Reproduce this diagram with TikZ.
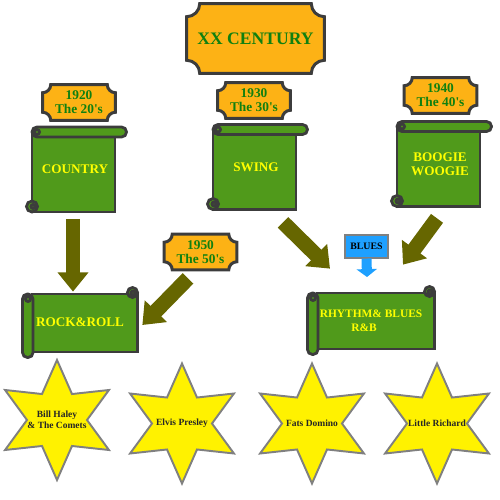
\documentclass[tikz,border=0pt]{standalone}
\usepackage{fontspec}
\setmainfont{Liberation Serif}
\usepackage{tikz}
\usetikzlibrary{arrows.meta}
\usetikzlibrary{shapes.geometric}

\definecolor{plaqueorange}{RGB}{253,178,21}
\definecolor{plaquegreen}{RGB}{16,128,16}
\definecolor{darkline}{RGB}{60,60,60}
\definecolor{scrollgreen}{RGB}{80,154,27}
\definecolor{scrolltext}{RGB}{255,255,0}
\definecolor{arrowolive}{RGB}{102,102,0}
\definecolor{bluesblue}{RGB}{30,160,255}
\definecolor{stargray}{RGB}{128,128,128}

\tikzset{
    pline/.style={draw=darkline, line width=1.7pt, fill=plaqueorange},
    sline/.style={draw=darkline, line width=1.6pt, fill=scrollgreen},
    plaque/.style={minimum width=15.2mm, minimum height=7.8mm, inner sep=0pt, align=center,
        text=plaquegreen, font=\bfseries\fontsize{7.6}{8}\selectfont,
        path picture={
            \filldraw[pline]
                ([shift={(1.7+#1,1.7)}]path picture bounding box.north west)
                -- ([shift={(-1.7-#1,1.7)}]path picture bounding box.north east)
                .. controls ([shift={(-1.7-#1,1.7+0.55*#1)}]path picture bounding box.north east)
                and ([shift={(-1.7-0.55*#1,1.7+#1)}]path picture bounding box.north east)
                .. ([shift={(-1.7,1.7+#1)}]path picture bounding box.north east)
                -- ([shift={(-1.7,-1.7-#1)}]path picture bounding box.south east)
                .. controls ([shift={(-1.7-0.55*#1,-1.7-#1)}]path picture bounding box.south east)
                and ([shift={(-1.7-#1,-1.7-0.55*#1)}]path picture bounding box.south east)
                .. ([shift={(-1.7-#1,-1.7)}]path picture bounding box.south east)
                -- ([shift={(1.7+#1,-1.7)}]path picture bounding box.south west)
                .. controls ([shift={(1.7+#1,-1.7-0.55*#1)}]path picture bounding box.south west)
                and ([shift={(1.7+0.55*#1,-1.7-#1)}]path picture bounding box.south west)
                .. ([shift={(1.7,-1.7-#1)}]path picture bounding box.south west)
                -- ([shift={(1.7,1.7+#1)}]path picture bounding box.north west)
                .. controls ([shift={(1.7+0.55*#1,1.7+#1)}]path picture bounding box.north west)
                and ([shift={(1.7+#1,1.7+0.55*#1)}]path picture bounding box.north west)
                .. ([shift={(1.7+#1,1.7)}]path picture bounding box.north west) -- cycle;
        }},
    plaque/.default=8,
    vscroll/.style={minimum width=21.2mm, minimum height=17.6mm, inner sep=0pt, align=center,
        text=scrolltext, font=\bfseries\fontsize{7.5}{8}\selectfont,
        path picture={
            % body
            \filldraw[sline] ([shift={(10,6)}]path picture bounding box.north west) rectangle ([shift={(-13,-1.5)}]path picture bounding box.south east);
            % roll on top
            \filldraw[sline, rounded corners=2.8pt] ([shift={(10,1.5)}]path picture bounding box.north west) rectangle ([shift={(-1.5,11.5)}]path picture bounding box.north east);
            \draw[sline, fill=none] ([shift={(15,6.5)}]path picture bounding box.north west) circle (2.5);
            % curl at the foot
            \filldraw[sline] ([shift={(10,-7)}]path picture bounding box.south west) circle (5.5);
            \draw[sline, fill=none] ([shift={(11,-7)}]path picture bounding box.south west) circle (2);
        }},
    hscroll/.style={inner sep=0pt, align=center,
        text=scrolltext, font=\bfseries\fontsize{7.5}{8}\selectfont,
        path picture={
            % body
            \filldraw[sline] ([shift={(11,8)}]path picture bounding box.north west) rectangle ([shift={(-1.5,-7)}]path picture bounding box.south east);
            % curl at the top right
            \filldraw[sline] ([shift={(-6.5,6.5)}]path picture bounding box.north east) circle (5);
            \draw[sline, fill=none] ([shift={(-6,7)}]path picture bounding box.north east) circle (2);
            % roll on the left
            \filldraw[sline, rounded corners=2.8pt] ([shift={(1.5,8)}]path picture bounding box.north west) rectangle ([shift={(12,-1.5)}]path picture bounding box.south west);
            \draw[sline, fill=none] ([shift={(7,13)}]path picture bounding box.north west) circle (2.5);
        }},
    blues/.style={draw=stargray, line width=0.6pt, fill=bluesblue, minimum width=8.6mm, minimum height=4.6mm,
        inner sep=0pt, font=\bfseries\fontsize{5.6}{6}\selectfont},
    starnode/.style={star, star points=6, star point ratio=0.5, shape border rotate=30, minimum size=12mm, inner sep=0pt,
        draw=stargray, line width=1.1pt, fill=yellow, align=center, text=black!85,
        font=\bfseries\fontsize{5.4}{6.2}\selectfont},
    bigarrow/.style={draw=arrowolive, line width=8.5pt, -{Triangle[length=11pt, width=17pt]}},
    bluearrow/.style={draw=bluesblue, line width=5.7pt, -{Triangle[length=4.5pt, width=11.5pt]}},
}

\begin{document}
\begin{tikzpicture}[x=0.2mm, y=-0.2mm]
    \useasboundingbox (0,0) rectangle (500,500);

    % decades
    \node[plaque=13, minimum width=28.2mm, minimum height=14.6mm, font=\bfseries\fontsize{10}{11}\selectfont] (century) at (255.5,38.5) {XX CENTURY};
    \node[plaque] (p1920) at (79,102.5) {1920\\The 20\textquotesingle s};
    \node[plaque] (p1930) at (254,100.5) {1930\\The 30\textquotesingle s};
    \node[plaque] (p1940) at (440.5,95.5) {1940\\The 40\textquotesingle s};
    \node[plaque] (p1950) at (200.5,252) {1950\\The 50\textquotesingle s};

    % styles
    \node[vscroll] (country) at (75,169.5) {COUNTRY};
    \node[vscroll] (swing) at (256,167) {SWING};
    \node[vscroll] (boogie) at (440,164) {BOOGIE\\WOOGIE};
    \node[hscroll, minimum width=23.6mm, minimum height=14.6mm] (rock) at (80,322.5) {ROCK\&ROLL};
    \node[hscroll, minimum width=26mm, minimum height=14.2mm, font=\bfseries\fontsize{6.5}{8}\selectfont] (rnb) at (371,320.5) {RHYTHM\& BLUES\\R\&B\hspace*{8pt}};
    \node[blues] (blues) at (366.5,246.5) {BLUES};
    \coordinate (bluestip) at (367,277);

    % artists
    \node[starnode] (haley) at (57,420) {Bill Haley\\\& The Comets};
    \node[starnode] (elvis) at (182,423.5) {Elvis Presley};
    \node[starnode] (domino) at (312,423.5) {Fats Domino};
    \node[starnode] (richard) at (437,423.5) {Little Richard};

    \draw[bigarrow] ([shift={(-2,5)}]country.south) -- ([shift={(-7,6)}]rock.north);
    \draw[bigarrow] ([shift={(-12.5,6.5)}]p1950.south) -- ([shift={(3,2.5)}]rock.east);
    \draw[bigarrow] ([shift={(27,11)}]swing.south) -- ([shift={(-41,-16)}]rnb.north);
    \draw[bigarrow] ([shift={(-3,10)}]boogie.south) -- ([shift={(32,-20)}]rnb.north);
    \draw[bluearrow] (blues.south) -- (bluestip);
\end{tikzpicture}
\end{document}
